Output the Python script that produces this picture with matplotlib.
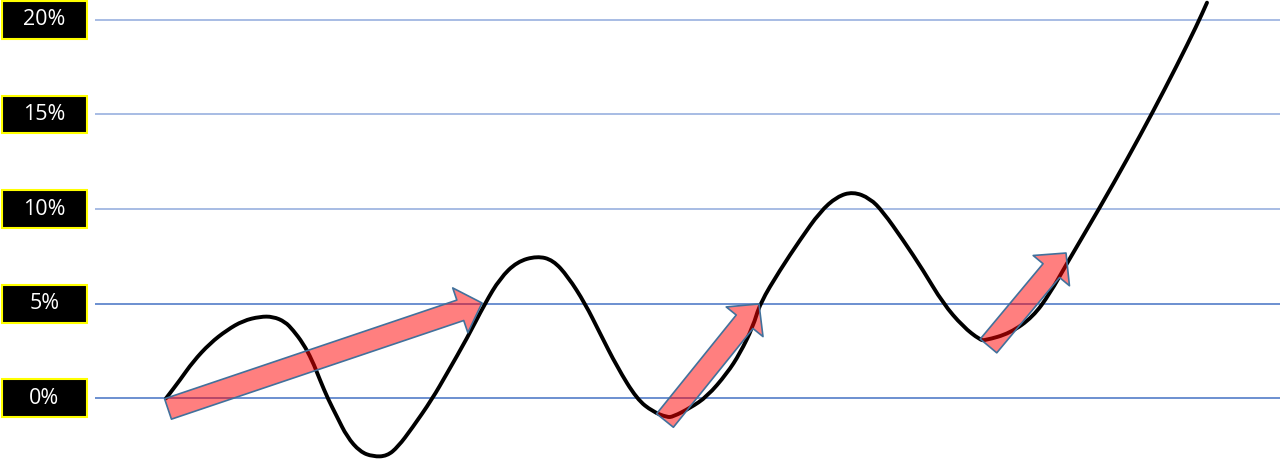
import matplotlib

matplotlib.use("Agg")
import matplotlib.pyplot as plt
from matplotlib.patches import FancyArrowPatch, PathPatch, Rectangle
from matplotlib.path import Path

# ── Data ──────────────────────────────────────────────────────────────────────

LEVELS = [0, 5, 10, 15, 20]
LEVEL_LABELS = ["0%", "5%", "10%", "15%", "20%"]

# curve: horizontal position (arbitrary units) and value (%)
CURVE_X = [
    166, 180, 193, 210, 227, 243, 260, 273, 285, 293, 303, 312, 320, 328, 337,
    347, 360, 373, 387, 398, 412, 432, 447, 467, 485, 500, 517, 537, 553, 568,
    585, 600, 617, 637, 653, 667, 673, 690, 707, 727, 740, 753, 760, 780, 800,
    820, 837, 853, 870, 883, 903, 923, 943, 963, 980, 985, 1010, 1033, 1050,
    1067, 1100, 1127, 1153, 1177, 1197, 1207,
]
CURVE_Y = [
    0.0, 0.97, 1.94, 2.91, 3.61, 4.10, 4.32, 4.32, 4.05, 3.61, 2.91, 2.03, 0.97,
    -0.03, -0.97, -2.03, -2.82, -3.08, -3.05, -2.56, -1.58, -0.05, 1.32, 3.17,
    5.02, 6.34, 7.22, 7.52, 7.31, 6.43, 5.02, 3.44, 1.67, -0.05, -0.71, -1.00,
    -0.97, -0.51, 0.09, 1.32, 2.38, 3.79, 5.02, 6.78, 8.37, 9.86, 10.66, 10.92,
    10.57, 9.86, 8.37, 6.78, 5.02, 3.79, 3.09, 3.06, 3.44, 4.31, 5.55,
    7.14, 10.1, 12.62, 15.15, 17.6, 19.73, 20.91,
]

# trend arrows: (tail x, tail y) -> (tip x, tip y)
ARROWS = [
    ((168, -0.56), (482, 5.04)),
    ((665, -1.17), (759, 4.99)),
    ((988.5, 2.77), (1066, 7.68)),
]

# ── Style ─────────────────────────────────────────────────────────────────────

GRID_LIGHT = "#8FAADC"
GRID_DARK = "#4472C4"
ARROW_FACE = (1.0, 0.0, 0.0, 0.5)
ARROW_EDGE = "#41719C"


def smooth_path(xs, ys):
    """Quadratic bezier through midpoints, read points act as control points."""
    pts = list(zip(xs, ys))
    verts = [pts[0]]
    codes = [Path.MOVETO]
    mid = lambda a, b: ((a[0] + b[0]) / 2, (a[1] + b[1]) / 2)
    verts.append(mid(pts[0], pts[1]))
    codes.append(Path.LINETO)
    for i in range(1, len(pts) - 1):
        verts += [pts[i], mid(pts[i], pts[i + 1])]
        codes += [Path.CURVE3, Path.CURVE3]
    verts.append(pts[-1])
    codes.append(Path.LINETO)
    return Path(verts, codes)


fig = plt.figure(figsize=(12.8, 4.61), dpi=100)
ax = fig.add_axes([95 / 1280, 0, 1185 / 1280, 1])
ax.set_xlim(95, 1280)
ax.set_ylim(-3.31, 21.05)
ax.axis("off")

trans = ax.get_yaxis_transform()
box_w = 85 / 1185
box_x = (2 - 95) / 1185
for lvl, lbl in zip(LEVELS, LEVEL_LABELS):
    ax.axhline(lvl, color=GRID_LIGHT if lvl >= 10 else GRID_DARK, lw=1.1, zorder=1)
    # label box, left of the plot area
    ax.add_patch(
        Rectangle(
            (box_x, lvl - 1.0),
            box_w,
            2.0,
            transform=trans,
            facecolor="black",
            edgecolor="#FFFF00",
            lw=1.5,
            clip_on=False,
        )
    )
    ax.text(
        box_x + box_w / 2,
        lvl,
        lbl,
        transform=trans,
        ha="center",
        va="center",
        color="white",
        fontsize=15.5,
        family=["Open Sans", "DejaVu Sans"],
        clip_on=False,
    )

ax.add_patch(
    PathPatch(
        smooth_path(CURVE_X, CURVE_Y),
        facecolor="none",
        edgecolor="black",
        lw=2.8,
        joinstyle="round",
        capstyle="round",
        zorder=2,
    )
)

for tail, tip in ARROWS:
    ax.add_patch(
        FancyArrowPatch(
            tail,
            tip,
            arrowstyle="simple,head_length=16.5,head_width=34,tail_width=15.5",
            mutation_scale=1,
            shrinkA=0,
            shrinkB=0,
            facecolor=ARROW_FACE,
            edgecolor=ARROW_EDGE,
            lw=1.2,
            zorder=3,
        )
    )

fig.savefig("out.png", dpi=100)
